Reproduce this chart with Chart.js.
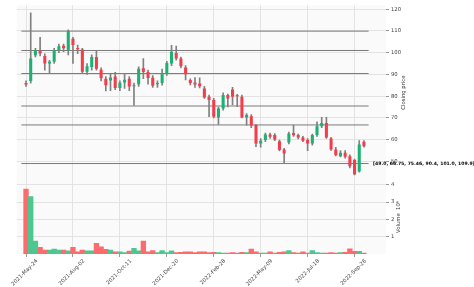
<!DOCTYPE html>
<html>
<head>
<meta charset="utf-8">
<script src="https://cdn.jsdelivr.net/npm/chart.js@4.4.0/dist/chart.umd.min.js"></script>
<style>
    html, body { margin: 0; padding: 0; background: #fff; }
    #wrap { position: relative; width: 474px; height: 287px; }
</style>
</head>
<body>
<div id="wrap"><canvas id="chart" width="474" height="287"></canvas></div>
<script>
// weekly candles, first week 2021-May-24
const opens  = [86, 87, 98.8, 101, 98.5, 95, 95.8, 101.1, 103.2, 101.1,
                106.4, 102.2, 101.5, 91.2, 93.4, 98, 92.1, 88, 87.2, 89,
                83.7, 86.3, 88, 84.5, 85.5, 92.8, 91.1, 88.5, 85.5, 86.1,
                90.4, 95, 99.9, 97.3, 93.2, 87.4, 86.3, 85.8, 83.5, 79.7,
                78.2, 70.2, 74.3, 80.5, 83.1, 80.2, 79.7, 70.2, 70.8, 66.7,
                58.2, 59.8, 62.4, 62.1, 59.3, 55.5, 58.7, 63.1, 62.1, 61,
                59.8, 58.2, 62.1, 66.2, 67.7, 60.5, 55.5, 52.4, 54, 52.4,
                50.6, 45.3, 59];
const highs  = [87, 118.3, 102, 107, 99.5, 96.5, 102, 104, 104, 110.5,
                107, 103.5, 102, 95, 99, 101, 93, 89, 90, 91,
                87, 90.5, 89, 86, 93.5, 97.3, 92, 89.5, 87, 92.5,
                96, 103.4, 103, 98, 94, 88, 88.5, 88.4, 84.5, 80.5,
                79, 75, 81.5, 81, 84, 80.8, 80.5, 72, 71.5, 67,
                60.5, 63, 63, 62.8, 59.8, 56, 63.5, 66.7, 62.5, 61.5,
                60.5, 62.5, 68.2, 70.2, 70.2, 61, 56.5, 55, 55, 53,
                51, 59.5, 59.5];
const lows   = [84.5, 86, 98, 98.5, 92, 90.7, 95, 100, 100.5, 99,
                95, 99.5, 90.5, 90, 92, 92, 87, 82.4, 82.5, 83,
                82.5, 83.5, 82.5, 75.7, 84.5, 88, 85.5, 84, 84, 85,
                89.5, 94, 96.5, 93, 87.5, 85.2, 84, 83.8, 79, 70.5,
                70, 67, 73.5, 75, 76, 75.2, 70, 66.7, 65.5, 56.7,
                56.5, 59, 60.5, 59.5, 54.8, 49, 58, 61.5, 60.3, 59,
                54.9, 57.5, 61.5, 65.5, 60.5, 55, 52.5, 52, 51.5, 47,
                43.8, 45, 56.5];
const closes = [85.3, 97.3, 101.1, 99.6, 95, 95.8, 101.1, 103, 102, 110,
                103.5, 101.6, 91.2, 93.8, 98, 92.6, 88.2, 85, 88.6, 83.7,
                86.2, 87.5, 84.4, 85, 92.6, 91.1, 88.3, 84.8, 86, 90.4,
                95.3, 100.4, 97.3, 93.8, 90.1, 86.1, 85.4, 84.6, 79.4, 78.2,
                70.5, 74.3, 80.5, 78.9, 79.7, 79.9, 70.2, 71.3, 66.5, 58.2,
                59.5, 62.4, 61.3, 60.1, 55.2, 53.6, 62.8, 62, 61, 59.5,
                58.2, 62.1, 66.2, 67.7, 61, 55.5, 52.9, 54, 52.1, 47.8,
                44.1, 57.7, 57];
// volume in millions
const volumes = [3.75, 3.31, 0.75, 0.39, 0.23, 0.23, 0.29, 0.23, 0.23, 0.19,
                 0.39, 0.13, 0.23, 0.19, 0.19, 0.62, 0.42, 0.27, 0.23, 0.13,
                 0.13, 0.08, 0.17, 0.33, 0.19, 0.75, 0.13, 0.2, 0.08, 0.2,
                 0.08, 0.19, 0.08, 0.1, 0.13, 0.13, 0.08, 0.13, 0.13, 0.08,
                 0.1, 0.08, 0.06, 0.05, 0.08, 0.06, 0.1, 0.08, 0.29, 0.12,
                 0.06, 0.06, 0.12, 0.06, 0.1, 0.12, 0.2, 0.08, 0.06, 0.12,
                 0.06, 0.2, 0.08, 0.06, 0.06, 0.08, 0.06, 0.08, 0.1, 0.3,
                 0.15, 0.15, 0.06];
const hlineValues = [49.0, 66.75, 75.46, 90.4, 101.0, 109.9];
const tickIndex = [0, 10, 20, 30, 40, 50, 60, 70];
const tickLabels = ['2021-May-24', '2021-Aug-02', '2021-Oct-11', '2021-Dec-20',
                    '2022-Feb-28', '2022-May-09', '2022-Jul-18', '2022-Sep-26'];
const priceTicks = [50, 60, 70, 80, 90, 100, 110, 120];
const volumeTicks = [1, 2, 3, 4];

const UP = '#1cb173', DOWN = '#f43d4a';
const VOL_UP = '#4dc790', VOL_DOWN = '#fd6b6c';
const WICK = '#808080';
const FONT = 'DejaVu Sans';

const n = closes.length;
const idx = closes.map((_, i) => i);
const isUp = idx.map(i => closes[i] >= opens[i]);

function fmt(v) {
    return Number.isInteger(v) ? v.toFixed(1) : String(v);
}

function drawVertical(ctx, text, x, y) {
    ctx.save();
    ctx.translate(x, y);
    ctx.rotate(-Math.PI / 2);
    ctx.fillText(text, 0, 0);
    ctx.restore();
}

const decorations = {
    id: 'decorations',
    beforeDraw(chart) {
        const { ctx, chartArea, scales } = chart;
        ctx.save();
        ctx.fillStyle = '#fafafa';
        [scales.y, scales.yv].forEach(s => {
            ctx.fillRect(chartArea.left, s.top, chartArea.width, s.bottom - s.top);
        });
        ctx.restore();
    },
    afterDraw(chart) {
        const { ctx, scales } = chart;
        ctx.save();
        ctx.fillStyle = '#333';
        ctx.font = `5.3px "${FONT}"`;
        ctx.textAlign = 'center';
        ctx.textBaseline = 'middle';
        drawVertical(ctx, 'Closing price', 404, (scales.y.top + scales.y.bottom) / 2);
        drawVertical(ctx, 'Volume  10\u2076', 399, (scales.yv.top + scales.yv.bottom) / 2);

        ctx.fillStyle = '#000';
        ctx.font = `bold 4.6px "${FONT}"`;
        ctx.textAlign = 'left';
        const label = '[' + hlineValues.map(fmt).join(', ') + ']';
        ctx.fillText(label, 373, scales.y.getPixelForValue(hlineValues[0]));
        ctx.restore();
    }
};

const hlineSets = hlineValues.map(v => ({
    type: 'line',
    data: [{ x: -1, y: v }, { x: n, y: v }],
    yAxisID: 'y',
    borderColor: '#7a7a7a',
    borderWidth: 1,
    pointRadius: 0,
    order: 4
}));

new Chart(document.getElementById('chart'), {
    type: 'bar',
    data: {
        datasets: [
            {
                data: idx.map(i => ({ x: i, y: [opens[i], closes[i]] })),
                yAxisID: 'y',
                backgroundColor: idx.map(i => isUp[i] ? UP : DOWN),
                barPercentage: 0.65,
                categoryPercentage: 1,
                minBarLength: 1,
                grouped: false,
                order: 0
            },
            {
                data: idx.map(i => ({ x: i, y: [lows[i], highs[i]] })),
                yAxisID: 'y',
                backgroundColor: WICK,
                barThickness: 1,
                grouped: false,
                order: 1
            },
            {
                data: idx.map(i => ({ x: i, y: volumes[i] })),
                yAxisID: 'yv',
                backgroundColor: idx.map(i => isUp[i] ? VOL_UP : VOL_DOWN),
                barPercentage: 1,
                categoryPercentage: 1,
                grouped: false,
                order: 2
            },
            ...hlineSets
        ]
    },
    options: {
        responsive: false,
        animation: false,
        devicePixelRatio: 1,
        layout: { autoPadding: false, padding: { left: 14, top: 5, right: 0, bottom: 0 } },
        plugins: {
            legend: { display: false },
            tooltip: { enabled: false }
        },
        scales: {
            x: {
                type: 'linear',
                offset: false,
                min: -1.95,
                max: 76.7,
                border: { display: false },
                grid: { color: '#e3e3e3', tickColor: '#999', tickLength: 3, offset: false },
                afterBuildTicks: s => { s.ticks = tickIndex.map(v => ({ value: v })); },
                afterFit: s => { s.height = 33; },
                ticks: {
                    minRotation: 45,
                    maxRotation: 45,
                    labelOffset: 11,
                    padding: 1,
                    color: '#444',
                    font: { family: FONT, size: 5.3 },
                    callback: v => tickLabels[tickIndex.indexOf(v)]
                }
            },
            y: {
                type: 'linear',
                position: 'right',
                stack: 'panels',
                stackWeight: 175,
                min: 41.4,
                max: 121.84,
                border: { display: false },
                grid: { color: '#e3e3e3', tickColor: '#999', tickLength: 3 },
                afterBuildTicks: s => { s.ticks = priceTicks.map(v => ({ value: v })); },
                afterFit: s => { s.width = 88; },
                ticks: {
                    padding: 2,
                    color: '#444',
                    font: { family: FONT, size: 5.3 }
                }
            },
            yv: {
                type: 'linear',
                position: 'right',
                stack: 'panels',
                stackWeight: 74,
                min: 0,
                max: 4.27,
                border: { display: false },
                grid: { color: '#e3e3e3', tickColor: '#999', tickLength: 3 },
                afterBuildTicks: s => { s.ticks = volumeTicks.map(v => ({ value: v })); },
                afterFit: s => { s.width = 88; },
                ticks: {
                    padding: 2,
                    color: '#444',
                    font: { family: FONT, size: 5.3 }
                }
            }
        }
    },
    plugins: [decorations]
});
</script>
</body>
</html>
